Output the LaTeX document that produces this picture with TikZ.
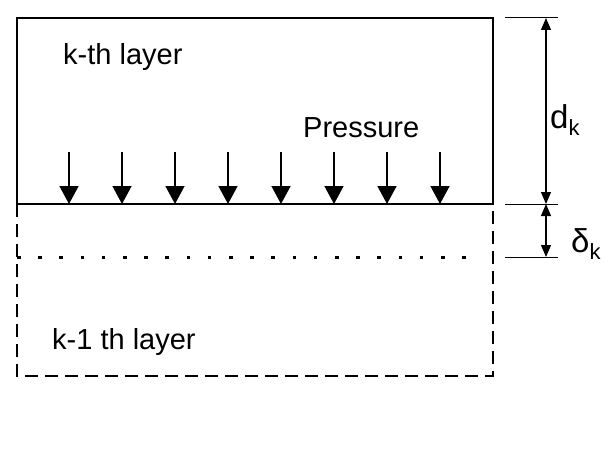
\documentclass[tikz,border=0pt]{standalone}
\usepackage{fontspec}
\setmainfont{Liberation Sans}
\usetikzlibrary{arrows.meta}
\begin{document}
\begin{tikzpicture}[x=1pt,y=-1pt,
  lbl/.style={font=\fontsize{29}{33}\selectfont,inner sep=0pt},
  tip/.style={-{Triangle[length=18pt,width=19pt]},line width=1.5pt},
  dim/.style={{Triangle[length=12pt,width=10pt]}-{Triangle[length=12pt,width=10pt]},line width=1.2pt}]
\useasboundingbox (0,0) rectangle (611,460);
\draw[line width=1.5pt] (17,18) rectangle (493,204);
\draw[dash pattern=on 13pt off 7pt,line width=1.5pt] (17,204) -- (17,376) -- (493,376) -- (493,204);
\draw[line width=3pt,dash pattern=on 3.5pt off 17.7pt] (17,257) -- (468,257);
\foreach \x in {69,122,175,228,281,334,387,440}
  \draw[tip] (\x,152) -- (\x,204);
\coordinate (t1) at (505,18); \coordinate (t1e) at (558,18);
\coordinate (t2) at (505,204); \coordinate (t2e) at (558,204);
\coordinate (t3) at (505,257); \coordinate (t3e) at (558,257);
\draw[line width=1pt] (t1) -- (t1e) (t2) -- (t2e) (t3) -- (t3e);
\coordinate (a1) at (546,18); \coordinate (a2) at (546,204); \coordinate (a3) at (546,257);
\draw[dim] (a1) -- (a2);
\draw[dim] (a2) -- (a3);
\node[lbl,anchor=west] (kth) at (63,57) {k-th layer};
\node[lbl,anchor=west] (pr) at (303,128) {Pressure};
\node[lbl,anchor=west] (k1) at (52,342) {k-1 th layer};
\node[lbl,anchor=west] (dk) at (550,120) {\fontsize{33}{36}\selectfont d\textsubscript{\fontsize{22}{24}\selectfont k}};
\node[lbl,anchor=west] (de) at (571,244) {\fontsize{33}{36}\selectfont δ\textsubscript{\fontsize{22}{24}\selectfont k}};
\end{tikzpicture}
\end{document}
